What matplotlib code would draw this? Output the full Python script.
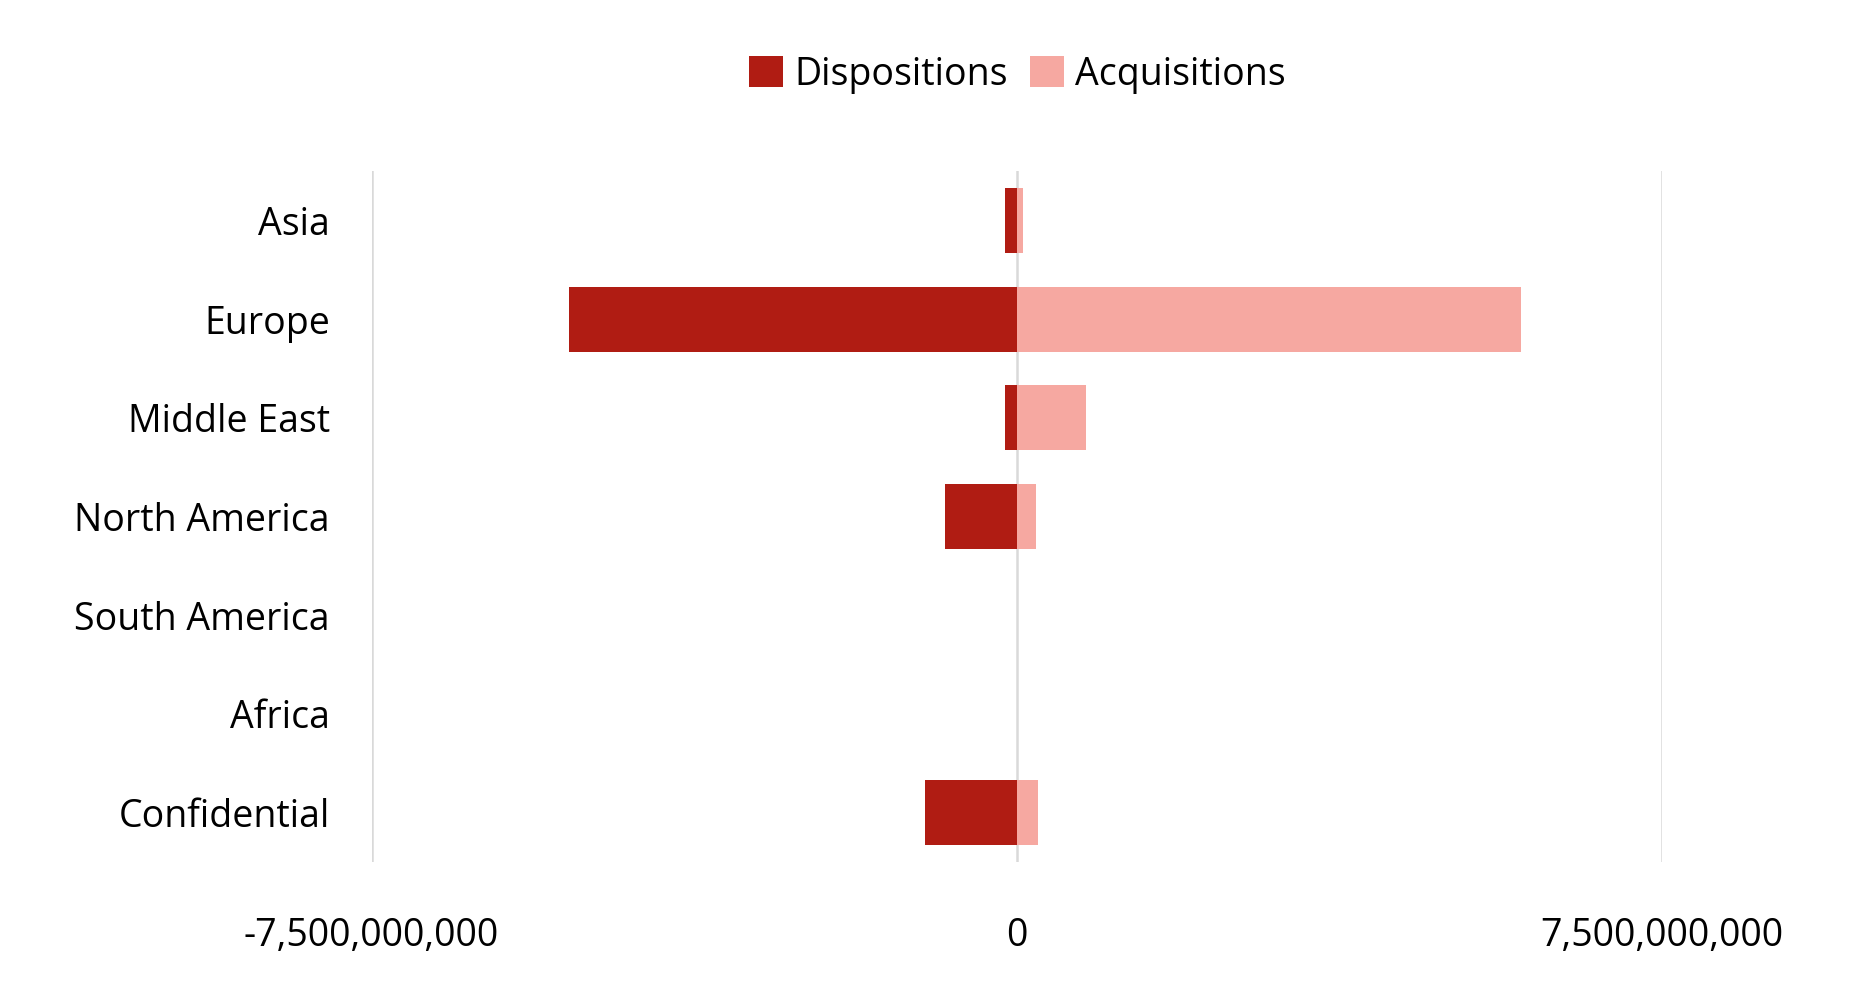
import matplotlib.pyplot as plt
import numpy as np

regions = ['Asia', 'Europe', 'Middle East', 'North America', 'South America', 'Africa', 'Confidential']
dispositions = [-0.14e9, -5.2e9, -0.13e9, -0.83e9, 0, 0, -1.07e9]
acquisitions = [0.08e9, 5.87e9, 0.81e9, 0.22e9, 0, 0, 0.25e9]
ticks = [-7.5e9, 0, 7.5e9]
tick_labels = ['-7,500,000,000', '0', '7,500,000,000']

plt.rcParams['font.family'] = ['Open Sans', 'DejaVu Sans']

fig = plt.figure(figsize=(18.67, 9.96), dpi=100)
ax = fig.add_axes([0.199, 0.135, 0.691, 0.693])

y = np.arange(len(regions))
ax.barh(y, dispositions, height=0.66, color='#b01c13', label='Dispositions', zorder=3)
ax.barh(y, acquisitions, height=0.66, color='#f6a8a1', label='Acquisitions', zorder=3)

ax.set_xlim(-7.5e9, 7.5e9)
ax.set_ylim(len(regions) - 0.5, -0.5)
ax.set_yticks(y)
ax.set_yticklabels(regions, fontsize=27)
ax.set_xticks(ticks)
ax.set_xticklabels(tick_labels, fontsize=27)
ax.tick_params(length=0)
ax.tick_params(axis='x', pad=40)
ax.tick_params(axis='y', pad=30)
for t in ticks:
    ax.axvline(t, color='#d9d9d9', lw=1.8, zorder=1)
for s in ax.spines.values():
    s.set_visible(False)

fig.legend(loc='center', bbox_to_anchor=(0.545, 0.925), ncol=2, frameon=False,
           fontsize=27, handlelength=0.9, handleheight=0.9, handletextpad=0.3,
           columnspacing=0.6)

fig.savefig('out.png', dpi=100)
